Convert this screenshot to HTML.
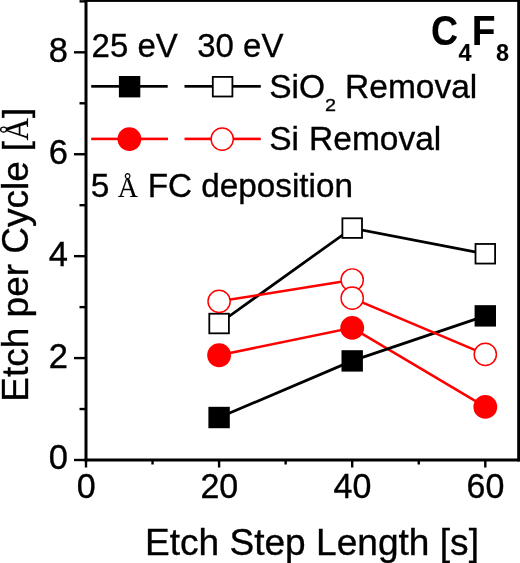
<!DOCTYPE html>
<html lang="en"><head><meta charset="utf-8"><title>Etch per Cycle</title>
<style>
html,body{margin:0;padding:0;background:#fff;}
body{width:520px;height:563px;overflow:hidden;}
svg{display:block;}
text{font-family:"Liberation Sans",Arial,sans-serif;fill:#000;stroke:#000;stroke-width:0.35px;}
.serif{font-family:"Liberation Serif","Times New Roman",serif;stroke-width:0.15px;}
.b text{font-weight:bold;stroke-width:0.1px;}
</style></head><body>
<svg width="520" height="563" viewBox="0 0 520 563">
<rect x="0" y="0" width="520" height="563" fill="#fff"/>

<g fill="#000">
<rect x="84.5" y="0" width="3" height="461.5"/>
<rect x="84.5" y="458.5" width="435" height="3"/>
<rect x="84.5" y="-1" width="435.5" height="2.9"/>
<rect x="517.2" y="0" width="3" height="461.5"/>
<rect x="74" y="458.80" width="11" height="2.4"/>
<rect x="79.5" y="407.84" width="5.5" height="2.4"/>
<rect x="74" y="356.88" width="11" height="2.4"/>
<rect x="79.5" y="305.92" width="5.5" height="2.4"/>
<rect x="74" y="254.96" width="11" height="2.4"/>
<rect x="79.5" y="204.00" width="5.5" height="2.4"/>
<rect x="74" y="153.04" width="11" height="2.4"/>
<rect x="79.5" y="102.08" width="5.5" height="2.4"/>
<rect x="74" y="51.12" width="11" height="2.4"/>
<rect x="79.5" y="0.16" width="5.5" height="2.4"/>
<rect x="84.80" y="461" width="2.4" height="6.5"/>
<rect x="151.35" y="461" width="2.4" height="3.5"/>
<rect x="217.90" y="461" width="2.4" height="6.5"/>
<rect x="284.45" y="461" width="2.4" height="3.5"/>
<rect x="351.00" y="461" width="2.4" height="6.5"/>
<rect x="417.55" y="461" width="2.4" height="3.5"/>
<rect x="484.10" y="461" width="2.4" height="6.5"/>
</g>
<text x="67.9" y="469.4" text-anchor="end" font-size="34.5">0</text>
<text x="67.9" y="367.5" text-anchor="end" font-size="34.5">2</text>
<text x="67.9" y="265.6" text-anchor="end" font-size="34.5">4</text>
<text x="67.9" y="163.6" text-anchor="end" font-size="34.5">6</text>
<text x="67.9" y="61.7" text-anchor="end" font-size="34.5">8</text>
<text transform="translate(86.2,497.9) scale(1,1.03)" text-anchor="middle" font-size="34">0</text>
<text transform="translate(219.3,497.9) scale(1,1.03)" text-anchor="middle" font-size="34">20</text>
<text transform="translate(352.4,497.9) scale(1,1.03)" text-anchor="middle" font-size="34">40</text>
<text transform="translate(485.5,497.9) scale(1,1.03)" text-anchor="middle" font-size="34">60</text>
<text transform="translate(144.9,554.8) scale(1.003,1.02)" font-size="37">Etch Step Length [s]</text>
<g transform="translate(27.7,401.7) rotate(-90)" font-size="37">
<text transform="scale(1,1.015)">Etch per Cycle</text>
<text transform="translate(250.3,0) scale(1,0.965)">[</text>
<text class="serif" font-size="31" transform="translate(261.1,0) scale(1,1.11)">Å</text>
<text transform="translate(283.6,0) scale(1,0.965)">]</text>
</g>
<polyline points="219.1,355.2 352.2,327.9 485.3,406.9" fill="none" stroke="#ff0000" stroke-width="2.5"/>
<polyline points="219.1,417.5 352.2,360.9 485.3,315.9" fill="none" stroke="#000" stroke-width="2.75"/>
<polyline points="219.1,323.5 352.2,228.1 485.3,253.8" fill="none" stroke="#000" stroke-width="2.75"/>
<polyline points="219.1,301.3 352.2,280.0 352.2,298.1 485.3,354.4" fill="none" stroke="#ff0000" stroke-width="2.5"/>
<circle cx="219.10" cy="355.25" r="11.9" fill="#ff0000"/>
<circle cx="352.20" cy="327.91" r="11.9" fill="#ff0000"/>
<circle cx="485.30" cy="406.91" r="11.9" fill="#ff0000"/>
<rect x="208.40" y="406.82" width="21.4" height="21.4" fill="#000"/>
<rect x="341.50" y="350.21" width="21.4" height="21.4" fill="#000"/>
<rect x="474.60" y="305.17" width="21.4" height="21.4" fill="#000"/>
<rect x="209.30" y="313.72" width="19.6" height="19.6" fill="#fff" stroke="#000" stroke-width="1.8"/>
<rect x="342.40" y="218.30" width="19.6" height="19.6" fill="#fff" stroke="#000" stroke-width="1.8"/>
<rect x="475.50" y="243.96" width="19.6" height="19.6" fill="#fff" stroke="#000" stroke-width="1.8"/>
<circle cx="219.10" cy="301.29" r="11.1" fill="#fff" stroke="#ff0000" stroke-width="1.45"/>
<circle cx="352.20" cy="279.97" r="11.1" fill="#fff" stroke="#ff0000" stroke-width="1.45"/>
<circle cx="352.20" cy="298.13" r="11.1" fill="#fff" stroke="#ff0000" stroke-width="1.45"/>
<circle cx="485.30" cy="354.43" r="11.1" fill="#fff" stroke="#ff0000" stroke-width="1.45"/>
<g font-size="33.5">
<text transform="translate(91.6,56.5) scale(0.985,1)">25 eV</text>
<text transform="translate(197.2,56.5) scale(0.985,1)">30 eV</text>
<text transform="translate(269.2,97.6) scale(1.0,1)">SiO</text>
<text transform="translate(325.0,111.4) scale(1,0.86)" font-size="19.8">2</text>
<text transform="translate(345.1,97.6) scale(1.0,1)">Removal</text>
<text transform="translate(269.2,150.1) scale(1.0,1)">Si<tspan dx="0.8"> Removal</tspan></text>
<text transform="translate(90.8,196.6) scale(1.0,1)">5</text>
<text class="serif" font-size="28" transform="translate(117.7,196.6) scale(1,1.08)">Å</text>
<text transform="translate(147.7,196.6) scale(0.994,1)">FC deposition</text>
</g>
<rect x="91.2" y="85.0" width="76.5" height="2.7" fill="#000"/>
<rect x="184.5" y="85.0" width="76.3" height="2.7" fill="#000"/>
<rect x="91.2" y="137.6" width="76.8" height="2.6" fill="#ff0000"/>
<rect x="184.5" y="137.6" width="76.3" height="2.6" fill="#ff0000"/>
<rect x="118.90" y="76.00" width="21.4" height="21.4" fill="#000"/>
<rect x="212.80" y="76.90" width="19.6" height="19.6" fill="#fff" stroke="#000" stroke-width="1.8"/>
<circle cx="129.40" cy="139.10" r="11.9" fill="#ff0000"/>
<circle cx="222.20" cy="139.10" r="11.1" fill="#fff" stroke="#ff0000" stroke-width="1.45"/>
<g class="b">
<text transform="translate(430.9,44.9) scale(0.965,1.07)" font-size="38.9">C</text>
<text transform="translate(458.4,60.9)" font-size="23.4">4</text>
<text transform="translate(471.7,44.9) scale(1,1.07)" font-size="38.9">F</text>
<text transform="translate(496.0,60.9)" font-size="23.4">8</text>
</g>
</svg>
</body></html>
